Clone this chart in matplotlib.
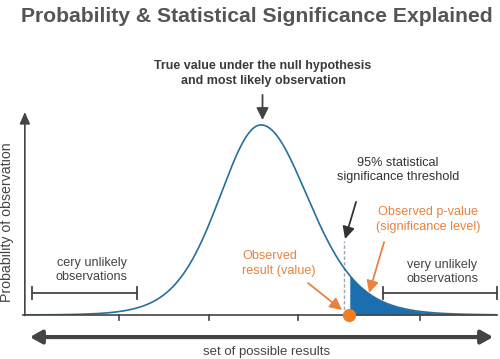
import numpy as np
import matplotlib
matplotlib.use("Agg")
import matplotlib.pyplot as plt

plt.rcParams['font.family'] = ['Liberation Sans', 'DejaVu Sans']

# ---- data (result axis in arbitrary units, mean at 0) ----
peak_height = 1.0
mean_value = 0.0
scale_left = 0.857
scale_right = 0.966
dof = 10
threshold_value = 1.645
observed_value = 1.75
tick_positions = [-2.81, -1.03, 0.73, 3.15]
x_range = [-4.67, 4.67]

title_text = "Probability & Statistical Significance Explained"
null_text = "True value under the null hypothesis\nand most likely observation"
threshold_text = "95% statistical\nsignificance threshold"
pvalue_text = "Observed p-value\n(significance level)"
result_text = "Observed\nresult (value)"
left_text = "cery unlikely\nobservations"
right_text = "very unlikely\nobservations"
y_label = "Probability of observation"
x_label = "set of possible results"

# ---- curve ----
x = np.linspace(x_range[0], x_range[1], 1200)
s = np.where(x < mean_value, scale_left, scale_right)
y = peak_height * (1 + ((x - mean_value) / s) ** 2 / dof) ** (-(dof + 1) / 2)

dark = "#444444"
orange = "#e8823e"
curve_col = "#25709c"
fill_col = "#1b6fae"
fs = 9.1

fig = plt.figure(figsize=(5.0, 3.59), dpi=100)
ax = fig.add_axes([25 / 500, 44 / 359, 472 / 500, 203 / 359])
ax.set_xlim(*x_range)
ax.set_ylim(0, 1.068)
ax.axis('off')

ax.plot(x, y, color=curve_col, lw=1.2, zorder=3)
mask = x >= observed_value
ax.fill_between(x[mask], 0, y[mask], color=fill_col, lw=0, zorder=2)

# threshold dashed line
ax.plot([threshold_value, threshold_value], [0, 0.39], color="#a3a3bb",
        lw=1.0, ls=(0, (2.5, 1.5)), zorder=2, clip_on=False)

# baseline and ticks
ax.plot([-4.713, 4.673], [0, 0], color=dark, lw=1.2, clip_on=False, zorder=4)
for t in tick_positions:
    ax.plot([t, t], [0, -0.025], color=dark, lw=1.2, clip_on=False)

# y axis arrow
ax.annotate("", xy=(-4.673, 1.068), xytext=(-4.673, -0.003),
            arrowprops=dict(arrowstyle='-|>,head_length=0.5,head_width=0.22',
                            color=dark, lw=1.2, mutation_scale=14,
                            shrinkA=0, shrinkB=0), annotation_clip=False)

# bottom double arrow
ax.annotate("", xy=(4.594, -0.116), xytext=(-4.574, -0.116),
            arrowprops=dict(arrowstyle='<|-|>,head_length=0.5,head_width=0.28',
                            color=dark, lw=3.0, mutation_scale=14,
                            shrinkA=0, shrinkB=0), annotation_clip=False)

# observed dot
ax.plot([observed_value], [0], 'o', color="#f07d22", ms=8.5, zorder=6,
        clip_on=False, mec="#f07d22")

# brackets
for x0, x1 in [(-4.535, -2.455), (2.416, 4.673)]:
    ax.plot([x0, x1], [0.116, 0.116], color=dark, lw=1.3, clip_on=False)
    for xx in (x0, x1):
        ax.plot([xx, xx], [0.084, 0.148], color=dark, lw=1.3, clip_on=False)

# texts
fig.text(257 / 500, 1 - 17 / 359, title_text, ha='center', va='center',
         fontsize=15.2, fontweight='bold', color="#555555")
ax.text(0.04, 1.271, null_text, ha='center', va='center', fontsize=9.0,
        fontweight='bold', color="#3a3a3a", linespacing=1.25, clip_on=False)
ax.annotate("", xy=(0.03, 1.026), xytext=(0.03, 1.158),
            arrowprops=dict(arrowstyle='-|>,head_length=0.6,head_width=0.3',
                            color=dark, lw=1.3, mutation_scale=12,
                            shrinkA=0, shrinkB=0), annotation_clip=False)

ax.text(2.713, 0.761, threshold_text, ha='center', va='center', fontsize=fs,
        color="#333333", linespacing=1.25, clip_on=False)
ax.annotate("", xy=(1.663, 0.40), xytext=(1.881, 0.595),
            arrowprops=dict(arrowstyle='-|>,head_length=0.6,head_width=0.3',
                            color="#333333", lw=1.3, mutation_scale=12,
                            shrinkA=0, shrinkB=0), annotation_clip=False)

ax.text(3.307, 0.503, pvalue_text, ha='center', va='center', fontsize=fs,
        color=orange, linespacing=1.25, clip_on=False)
ax.annotate("", xy=(2.139, 0.116), xytext=(2.436, 0.384),
            arrowprops=dict(arrowstyle='-|>,head_length=0.6,head_width=0.3',
                            color=orange, lw=1.3, mutation_scale=12,
                            shrinkA=0, shrinkB=0), annotation_clip=False)

ax.text(-0.376, 0.271, result_text, ha='left', va='center', fontsize=fs,
        color=orange, linespacing=1.25, clip_on=False)
ax.annotate("", xy=(1.604, 0.026), xytext=(0.931, 0.168),
            arrowprops=dict(arrowstyle='-|>,head_length=0.6,head_width=0.3',
                            color=orange, lw=1.3, mutation_scale=12,
                            shrinkA=0, shrinkB=0), annotation_clip=False)

ax.text(-3.347, 0.237, left_text, ha='center', va='center', fontsize=fs,
        color=dark, linespacing=1.25, clip_on=False)
ax.text(3.584, 0.226, right_text, ha='center', va='center', fontsize=fs,
        color=dark, linespacing=1.25, clip_on=False)

ax.text(-5.03, 0.489, y_label, ha='center', va='center', rotation=90,
        fontsize=10.2, color=dark, clip_on=False)
ax.text(0.119, -0.195, x_label, ha='center', va='center', fontsize=9.5,
        color=dark, clip_on=False)

fig.savefig("out.png", dpi=100)
